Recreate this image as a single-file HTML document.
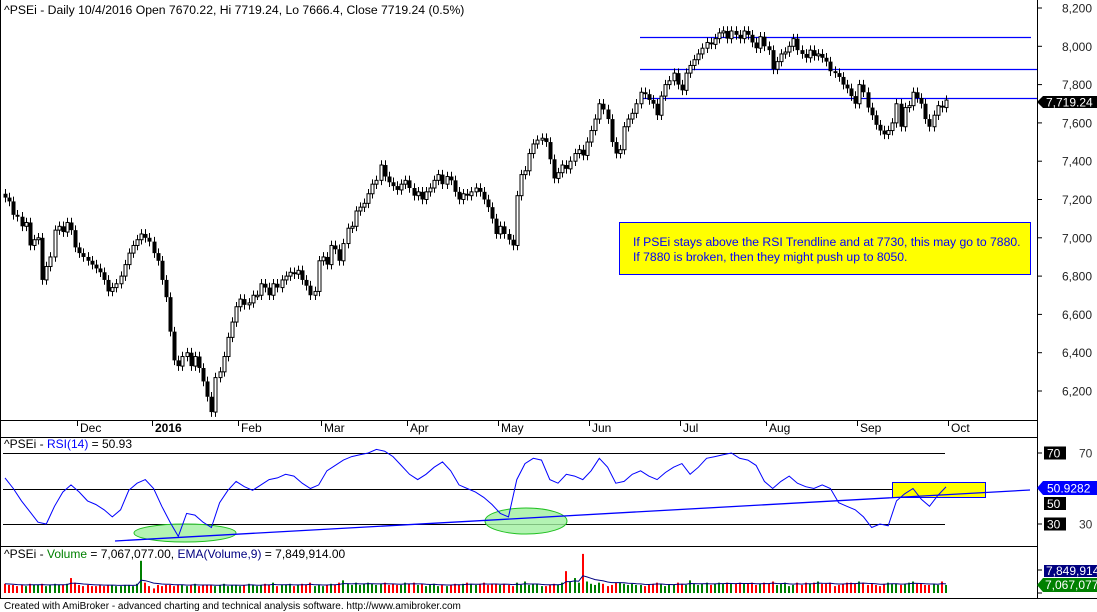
<!DOCTYPE html>
<html><head><meta charset="utf-8"><style>
html,body{margin:0;padding:0;background:#fff}
svg{display:block;font-family:"Liberation Sans",Arial,sans-serif}
</style></head><body>
<svg id="c" width="1097" height="612" viewBox="0 0 1097 612">
<rect x="0" y="0" width="1097" height="612" fill="#fff"/>
<g id="frames">
<line x1="0.5" y1="0" x2="0.5" y2="598" stroke="#000"/>
<line x1="1037.5" y1="0" x2="1037.5" y2="598" stroke="#000"/>
<line x1="0" y1="420.5" x2="1037" y2="420.5" stroke="#000"/>
<line x1="0" y1="437.5" x2="1037" y2="437.5" stroke="#000"/>
<line x1="0" y1="546.5" x2="1037" y2="546.5" stroke="#000"/>
<line x1="0" y1="598.5" x2="1097" y2="598.5" stroke="#000"/>
</g>
<text x="4" y="14" font-size="12.2">^PSEi - Daily 10/4/2016 Open 7670.22, Hi 7719.24, Lo 7666.4, Close 7719.24 (0.5%)</text>
<g id="levels"></g>
<g id="candles"></g>
<g id="yaxis"></g>
<g>
<polygon points="1037,102 1043,96 1097,96 1097,108 1043,108" fill="#000"/>
<text x="1046" y="106.5" font-size="12" fill="#fff">7,719.24</text>
</g>
<g>
<rect x="619.5" y="222.5" width="411" height="52" fill="#ffff00" stroke="#0000ff"/>
<text x="633" y="246" font-size="12.2" fill="#0000ff">If PSEi stays above the RSI Trendline and at 7730, this may go to 7880.</text>
<text x="633" y="261" font-size="12.2" fill="#0000ff">If 7880 is broken, then they might push up to  8050.</text>
</g>
<g id="months"></g>
<text x="4" y="448" font-size="12">^PSEi - <tspan fill="#0000ff">RSI(14)</tspan> = 50.93</text>
<g id="rsi"></g>
<text x="4" y="558" font-size="12">^PSEi - <tspan fill="#008000">Volume</tspan> = 7,067,077.00, <tspan fill="#000080">EMA(Volume,9)</tspan> = 7,849,914.00</text>
<g id="vol"></g>
<text x="4" y="609" font-size="10">Created with AmiBroker - advanced charting and technical analysis software. http://www.amibroker.com</text>
</svg>
<script>
const closes=[7210,7190,7120,7110,7060,7080,6960,6990,7000,6780,
6850,6900,7040,7060,7030,7080,7040,6950,6920,6900,
6880,6860,6840,6820,6780,6720,6740,6760,6800,6860,
6920,6960,6990,7020,7000,6980,6920,6880,6780,6690,
6510,6360,6330,6380,6400,6330,6380,6320,6250,6170,
6090,6270,6300,6380,6480,6560,6640,6680,6650,6660,
6700,6700,6760,6740,6700,6760,6740,6780,6800,6820,
6810,6830,6780,6750,6700,6720,6880,6900,6860,6960,
6940,6880,6970,7050,7060,7140,7160,7180,7230,7280,
7300,7380,7320,7290,7270,7250,7280,7300,7260,7220,
7240,7200,7240,7260,7300,7330,7280,7320,7300,7240,
7200,7230,7220,7240,7260,7240,7200,7160,7100,7020,
7060,7020,6990,6960,7220,7330,7350,7440,7490,7510,
7520,7500,7410,7310,7340,7380,7360,7400,7440,7460,
7430,7500,7560,7620,7700,7670,7620,7500,7440,7460,
7580,7620,7650,7700,7760,7750,7720,7700,7640,7740,
7800,7820,7860,7800,7770,7860,7900,7930,7960,7990,
8020,8010,8040,8070,8080,8040,8080,8060,8040,8080,
8060,8020,7990,8050,8000,7980,7880,7920,7960,7970,
8000,8040,7980,7960,7940,7980,7950,7960,7940,7920,
7870,7860,7840,7800,7780,7740,7700,7800,7760,7680,
7640,7590,7560,7540,7560,7600,7700,7580,7680,7690,
7760,7730,7700,7620,7580,7640,7690,7680,7719];
const firstOpen=7230;
const volumes=[8,7,7,6,7,6,8,7,7,8,6,7,8,7,7,8,13,9,7,6,7,6,6,7,6,7,7,6,6,7,
7,6,8,28,9,6,4,7,6,7,7,6,7,7,6,7,8,6,7,7,7,6,7,8,6,7,7,6,7,8,
7,6,7,8,7,9,6,7,7,8,6,7,8,7,9,6,7,6,7,8,7,9,11,8,7,9,7,8,9,8,
7,8,9,7,8,7,7,9,8,9,7,8,6,7,8,6,7,6,7,8,7,8,9,8,7,8,9,7,8,8,
7,8,7,6,9,7,10,7,8,8,6,6,7,8,7,9,19,10,13,9,34,10,8,7,9,8,6,7,9,9,
8,7,8,7,7,6,7,8,9,8,6,7,7,9,8,7,11,8,7,8,9,7,8,9,8,9,8,8,9,8,
8,9,7,8,9,8,10,7,8,9,6,7,9,7,9,8,9,10,8,8,9,6,7,8,9,9,8,10,9,7,
8,7,6,8,9,8,8,7,8,9,10,8,8,7,7,8,7,10,7];
const rsiValues=[56,50,43,37,31,30,40,48,52,48,43,41,38,34,38,49,53,55,50,40,
31,23,36,35,31,28,42,49,54,51,49,52,55,56,58,57,53,50,52,60,
63,66,68,69,70,72,71,68,63,58,55,58,62,65,60,52,50,48,45,41,
36,34,55,64,67,66,55,53,58,57,55,60,67,62,53,54,58,60,57,55,
59,62,64,58,62,67,68,69,70,67,66,63,54,50,54,57,53,51,50,52,
50,42,40,38,34,28,30,29,43,47,50,44,40,46,50.9];
const priceTicks=[8200,8000,7800,7600,7400,7200,7000,6800,6600,6400,6200];
const levelPrices=[8050,7880,7730];
const months=["Dec","2016","Feb","Mar","Apr","May","Jun","Jul","Aug","Sep","Oct"];
const monthStartIdx=[18,36,57,77,98,120,142,164,185,207,229];
const rsiLevels=[70,50,30];

const NS="http://www.w3.org/2000/svg";
function mk(tag,attrs,parent){const e=document.createElementNS(NS,tag);for(const k in attrs)e.setAttribute(k,attrs[k]);parent.appendChild(e);return e;}
const X0=5,STEP=(946-5)/228;
const xAt=i=>X0+i*STEP;
const yP=p=>8+(8200-p)*(38.3/200);
const yR=v=>453+(70-v)*(71/40);
const yV=v=>593-v*1.15;

const ya=document.getElementById('yaxis');
priceTicks.forEach(p=>{const y=yP(p);
 const t=mk('line',{x1:1037,y1:y,x2:1042,y2:y,stroke:'#000'},ya);
 
 const tx=mk('text',{x:1062,y:y+4.5,'font-size':12,fill:'#222'},ya);
 
 tx.textContent=p.toLocaleString('en-US');});

const lv=document.getElementById('levels');
levelPrices.forEach((p,k)=>{const y=Math.round(yP(p))+0.5;
 const l=mk('line',{x1:640,y1:y,x2:k==0?1031:1037,y2:y,stroke:'#0000ff','stroke-width':1.2},lv);
 });

const cg=document.getElementById('candles');
closes.forEach((c,i)=>{const o=i==0?firstOpen:closes[i-1];const x=Math.round(xAt(i));
 const hi=Math.max(o,c)+25,lo=Math.min(o,c)-25;
 const w=mk('line',{x1:x+0.5,y1:yP(hi),x2:x+0.5,y2:yP(lo),stroke:'#000'},cg);
 
 const top=yP(Math.max(o,c)),bot=yP(Math.min(o,c));
 const up=c>=o;
 const b=mk('rect',{x:up?x-1:x-1.5,y:top,width:up?3:4,height:Math.max(1.5,bot-top),fill:up?'#fff':'#000',stroke:'#000','stroke-width':up?1:0},cg);
 });

const mg=document.getElementById('months');
months.forEach((m,k)=>{const x=Math.round(xAt(monthStartIdx[k]-0.5));
 const t=mk('line',{x1:x+0.5,y1:421,x2:x+0.5,y2:426,stroke:'#000'},mg);
 
 const tx=mk('text',{x:x+3,y:432,'font-size':12,'font-weight':m=='2016'?'bold':'normal'},mg);
 
 tx.textContent=m;});

const rg=document.getElementById('rsi');
rsiLevels.forEach(v=>{const y=Math.round(yR(v))+0.5;
 const l=mk('line',{x1:3,y1:y,x2:945,y2:y,stroke:'#000'},rg);
 });
let e1=mk('ellipse',{cx:185,cy:533,rx:51,ry:9,fill:'#a0f0a0',stroke:'#20c020','fill-opacity':0.8},rg);

let e2=mk('ellipse',{cx:526,cy:521,rx:41,ry:13,fill:'#a0f0a0',stroke:'#20c020','fill-opacity':0.8},rg);

let yb=mk('rect',{x:892.5,y:482.5,width:93,height:15,fill:'#ffff00',stroke:'#0000ff'},rg);

let tl=mk('line',{x1:115,y1:541,x2:1030,y2:490,stroke:'#0000ff','stroke-width':1.3},rg);

const rp=rsiValues.map((v,k)=>(X0+k*2*STEP).toFixed(1)+','+yR(v).toFixed(1)).join(' ');
let rl=mk('polyline',{points:rp,fill:'none',stroke:'#0000ff','stroke-width':1},rg);

[70,30].forEach(v=>{const y=yR(v);
 const t=mk('line',{x1:1037,y1:y,x2:1042,y2:y,stroke:'#000'},rg);
 
 const bx=mk('rect',{x:1044,y:y-6.5,width:22,height:13,fill:'#000'},rg);
 
 const tx=mk('text',{x:1047,y:y+4.5,'font-size':12,fill:'#fff'},rg);
 
 tx.textContent=v;
 const t2=mk('text',{x:1079,y:y+4.5,'font-size':12,fill:'#333'},rg);
 
 t2.textContent=v;});
let b50=mk('rect',{x:1044,y:497,width:22,height:13,fill:'#000'},rg);

let t50=mk('text',{x:1047,y:508,'font-size':12,fill:'#fff'},rg);

t50.textContent='50';
let rb=mk('polygon',{points:'1037,488 1043,481 1097,481 1097,495 1043,495',fill:'#0000ff'},rg);

let rt=mk('text',{x:1047,y:492.5,'font-size':12,fill:'#fff'},rg);

rt.textContent='50.9282';

const vg=document.getElementById('vol');
volumes.forEach((v,i)=>{const o=i==0?firstOpen:closes[i-1];const x=Math.round(xAt(i));
 const r=mk('rect',{x:x-1,y:yV(v),width:2,height:593-yV(v),fill:closes[i]>=o?'#008000':'#ff0000'},vg);
 });
let ema=[],a=2/10;volumes.forEach((v,i)=>ema.push(i==0?v:a*v+(1-a)*ema[i-1]));
let el=mk('polyline',{points:ema.map((v,i)=>xAt(i).toFixed(1)+','+yV(v).toFixed(1)).join(' '),fill:'none',stroke:'#000080','stroke-width':1},vg);

[570,593].forEach(y=>{const t=mk('line',{x1:1037,y1:y,x2:1042,y2:y,stroke:'#000'},vg);
 });
let eb=mk('rect',{x:1044,y:565,width:53,height:12,fill:'#000080'},vg);

let et=mk('text',{x:1046,y:575,'font-size':12,fill:'#fff'},vg);

et.textContent='7,849,914';
let gb=mk('polygon',{points:'1037,585 1043,578 1097,578 1097,592 1043,592',fill:'#008000'},vg);

let gt=mk('text',{x:1045,y:589,'font-size':12,fill:'#fff'},vg);

gt.textContent='7,067,077';
</script>
</body></html>
